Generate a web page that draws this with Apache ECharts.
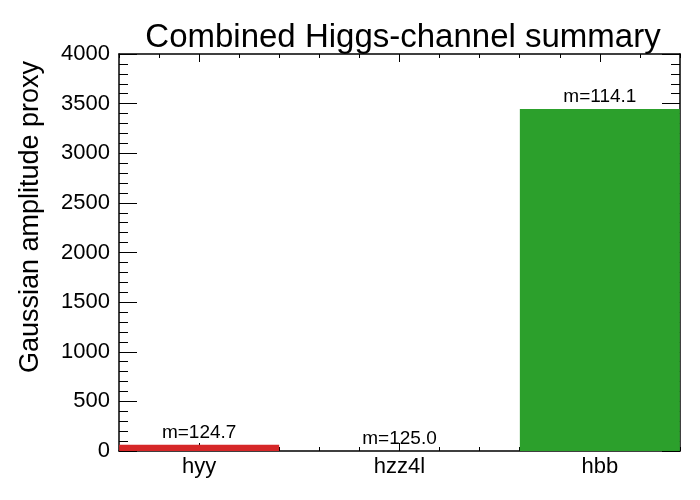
<!DOCTYPE html>
<html>
<head>
<meta charset="utf-8">
<script src="https://cdn.jsdelivr.net/npm/echarts@6/dist/echarts.min.js"></script>
<style>
html,body{margin:0;padding:0;background:#fff;}
#chart{width:700px;height:500px;}
</style>
</head>
<body>
<div id="chart"></div>
<script>
const categories = ['hyy', 'hzz4l', 'hbb'];
const amplitudes = [62, 1, 3445];
const masses = [124.7, 125.0, 114.1];
const barColors = ['#d62728', '#1f77b4', '#2ca02c'];
const titleText = 'Combined Higgs-channel summary';
const yAxisTitle = 'Gaussian amplitude proxy';
const yMin = 0, yMax = 4000, yStep = 500;

const FONT = 'Liberation Sans';
const catIdx = categories.map((c, i) => i);

const chart = echarts.init(document.getElementById('chart'));
const baseX = {
  type: 'value', min: -0.4, max: 2.4, gridIndex: 0,
  splitLine: { show: false }
};
const option = {
  backgroundColor: '#fff',
  animation: false,
  textStyle: { fontFamily: FONT, color: '#000' },
  title: {
    text: titleText, left: 398, textAlign: 'center', top: 16,
    textStyle: { fontFamily: FONT, fontSize: 33, fontWeight: 'normal', color: '#000' }
  },
  graphic: [{
    type: 'text', x: 31, y: 217, rotation: Math.PI / 2,
    style: { text: yAxisTitle, fontFamily: FONT, fontSize: 27, fill: '#000', align: 'center', verticalAlign: 'middle' }
  }],
  grid: { left: 119, right: 20, top: 54, bottom: 49, containLabel: false },
  xAxis: [
    Object.assign({}, baseX, {
      position: 'bottom',
      axisLine: { show: true, onZero: false, lineStyle: { color: '#000', width: 1.5 } },
      axisTick: { show: true, inside: true, length: 8, customValues: catIdx, lineStyle: { color: '#000', width: 1 } },
      axisLabel: { show: true, customValues: catIdx, margin: 5, fontSize: 22, color: '#000', fontFamily: FONT,
        formatter: v => categories[Math.round(v)] }
    }),
    Object.assign({}, baseX, {
      position: 'bottom', interval: 0.2,
      axisLine: { show: false, onZero: false },
      axisTick: { show: true, inside: true, length: 4, lineStyle: { color: '#000', width: 1 } },
      axisLabel: { show: false }
    }),
    Object.assign({}, baseX, {
      position: 'top',
      axisLine: { show: true, onZero: false, lineStyle: { color: '#000', width: 1.5 } },
      axisTick: { show: true, inside: true, length: 8, customValues: catIdx, lineStyle: { color: '#000', width: 1 } },
      axisLabel: { show: false }
    }),
    Object.assign({}, baseX, {
      position: 'top', interval: 0.2,
      axisLine: { show: false, onZero: false },
      axisTick: { show: true, inside: true, length: 4, lineStyle: { color: '#000', width: 1 } },
      axisLabel: { show: false }
    })
  ],
  yAxis: [
    {
      type: 'value', min: yMin, max: yMax, interval: yStep, position: 'left',
      splitLine: { show: false },
      axisLine: { show: true, onZero: false, lineStyle: { color: '#000', width: 1.5 } },
      axisTick: { show: true, inside: true, length: 18, lineStyle: { color: '#000', width: 1 } },
      minorTick: { show: true, splitNumber: 5, length: 9, lineStyle: { color: '#000', width: 1 } },
      axisLabel: { show: true, margin: 9, fontSize: 22, color: '#000', fontFamily: FONT, formatter: v => String(v) }
    },
    {
      type: 'value', min: yMin, max: yMax, interval: yStep, position: 'right',
      splitLine: { show: false },
      axisLine: { show: true, onZero: false, lineStyle: { color: '#000', width: 1.5 } },
      axisTick: { show: true, inside: true, length: 18, lineStyle: { color: '#000', width: 1 } },
      minorTick: { show: true, splitNumber: 5, length: 9, lineStyle: { color: '#000', width: 1 } },
      axisLabel: { show: false }
    }
  ],
  series: [{
    type: 'bar', xAxisIndex: 0, yAxisIndex: 0,
    barWidth: 160,
    data: categories.map((c, i) => ({
      value: [i, amplitudes[i]],
      itemStyle: { color: barColors[i] },
      label: { formatter: 'm=' + masses[i].toFixed(1) }
    })),
    label: { show: true, position: 'top', distance: 3, fontSize: 19, color: '#000', fontFamily: FONT }
  }]
};
chart.setOption(option);
</script>
</body>
</html>
